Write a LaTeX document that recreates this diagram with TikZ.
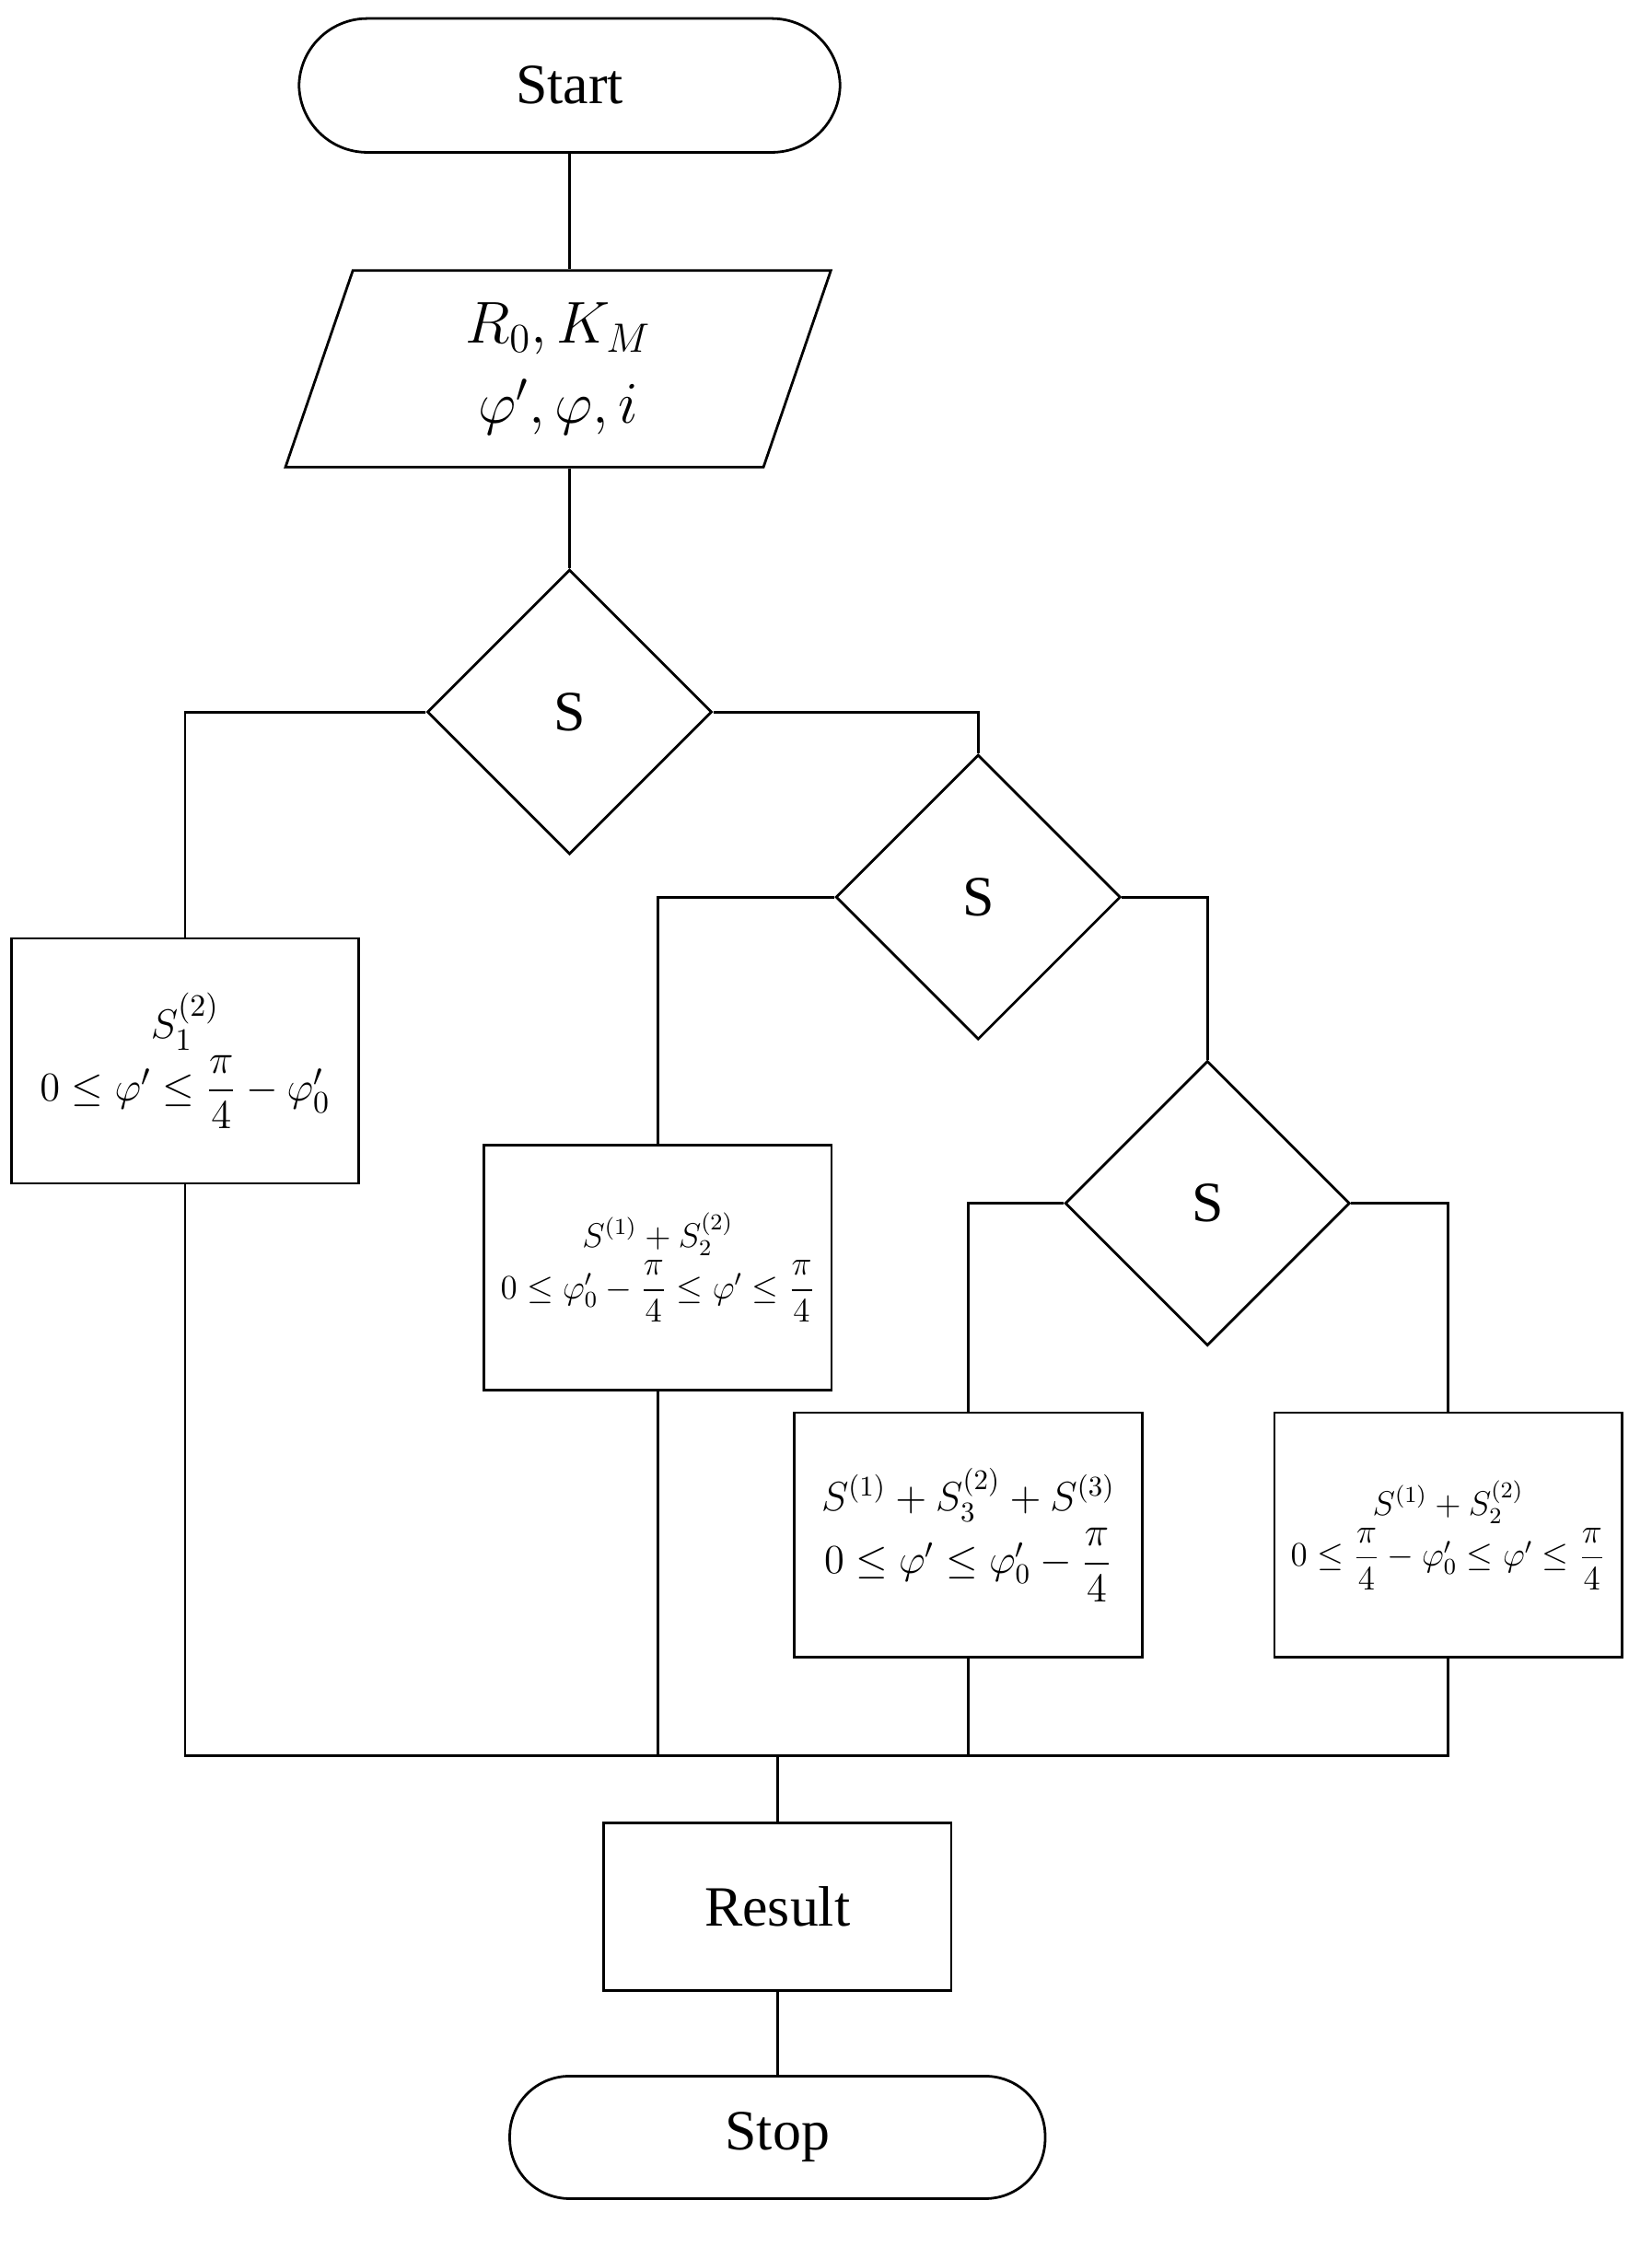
\documentclass[tikz,border=0pt]{standalone}
\usepackage{amsmath}
\usepackage{fontspec}
\setmainfont{Liberation Serif}
\usetikzlibrary{shapes.geometric}
\begin{document}
\begin{tikzpicture}[x=0.5pt,y=-0.5pt,line width=0.9pt,
  term/.style={draw,rounded corners=24pt,minimum width=#1,minimum height=47pt,inner sep=0pt,font=\fontsize{20}{24}\selectfont},
  box/.style={draw,minimum width=122pt,minimum height=86pt,inner sep=0pt,align=center,font=\fontsize{12}{18}\selectfont},
  dec/.style={draw,diamond,minimum width=100pt,minimum height=100pt,inner sep=0pt,font=\fontsize{20}{24}\selectfont}]
\useasboundingbox (0,0) rectangle (1160,1578);
\node[term=190pt] (start) at (400,60) {Start};
\node[draw,trapezium,trapezium left angle=77,trapezium right angle=103,trapezium stretches=true,minimum width=193pt,minimum height=69pt,inner sep=0pt,align=center,font=\fontsize{20}{26}\selectfont] (in) at (392,259) {$R_0, K_M$\\[2pt] $\varphi', \varphi, i$};
\node[dec] (d1) at (400,500) {S};
\node[dec] (d2) at (687,630) {S};
\node[dec] (d3) at (848,845) {S};
\node[box,font=\fontsize{15}{22}\selectfont] (b1) at (130,745) {$S_1^{(2)}$\\ $0\le\varphi'\le\dfrac{\pi}{4}-\varphi_0'$};
\node[box] (b2) at (462,890) {$S^{(1)}+S_2^{(2)}$\\ $0\le\varphi_0'-\dfrac{\pi}{4}\le\varphi'\le\dfrac{\pi}{4}$};
\node[box,font=\fontsize{14}{22}\selectfont] (b3) at (680,1078) {$S^{(1)}+S_3^{(2)}+S^{(3)}$\\ $0\le\varphi'\le\varphi_0'-\dfrac{\pi}{4}$};
\node[box] (b4) at (1017,1078) {$S^{(1)}+S_2^{(2)}$\\ $0\le\dfrac{\pi}{4}-\varphi_0'\le\varphi'\le\dfrac{\pi}{4}$};
\node[draw,minimum width=122pt,minimum height=59pt,inner sep=0pt,font=\fontsize{20}{24}\selectfont] (res) at (546,1339) {Result};
\node[term=188pt,minimum height=43pt,rounded corners=21pt] (stop) at (546,1501) {Stop};
\coordinate (busL) at (130,1233);
\coordinate (busR) at (1017,1233);
\coordinate (busM) at (546,1233);
\draw (start.south) -- (start.south |- in.north);
\draw (d1.north |- in.south) -- (d1.north);
\draw (d1.west) -| (b1.north);
\draw (d1.east) -| (d2.north);
\draw (d2.west) -| (b2.north);
\draw (d2.east) -| (d3.north);
\draw (d3.west) -| (b3.north);
\draw (d3.east) -| (b4.north);
\draw (b1.south) -- (busL) -- (busR) -- (b4.south);
\draw (b2.south) -- (b2.south |- busL);
\draw (b3.south) -- (b3.south |- busL);
\draw (busM) -- (res);
\draw (res) -- (stop);
\end{tikzpicture}
\end{document}
